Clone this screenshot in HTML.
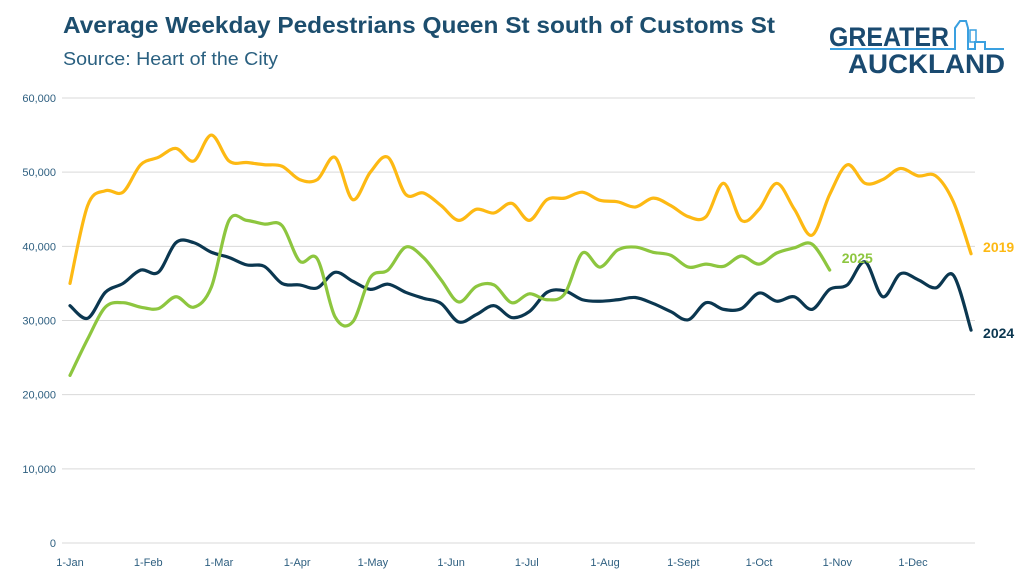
<!DOCTYPE html>
<html><head><meta charset="utf-8"><style>
body{margin:0;background:#fff;font-family:"Liberation Sans",sans-serif}
#wrap{position:relative;width:1024px;height:572px;overflow:hidden;background:#fff}
</style></head><body>
<div id="wrap">
<svg id="svg" width="1024" height="572">
<text x="63" y="33" font-size="23" font-weight="bold" fill="#1d4e6e" textLength="712" lengthAdjust="spacingAndGlyphs">Average Weekday Pedestrians Queen St south of Customs St</text>
<text x="63" y="65" font-size="18" fill="#2a6080" textLength="215" lengthAdjust="spacingAndGlyphs">Source: Heart of the City</text>
<g>
<text x="829" y="46" font-size="27" font-weight="bold" fill="#1a4a70" textLength="120" lengthAdjust="spacingAndGlyphs">GREATER</text>
<text x="848" y="73" font-size="27" font-weight="bold" fill="#1a4a70" textLength="157" lengthAdjust="spacingAndGlyphs">AUCKLAND</text>
<polyline points="830,49 955,49 955,28 960,21 966,21 968,28 968,49 975,49 975,42 985,42 985,49 1004,49" fill="none" stroke="#3aa0e0" stroke-width="2"/>
<rect x="970" y="30" width="6" height="12" fill="none" stroke="#3aa0e0" stroke-width="1.5"/>
</g>
<g id="grid"></g><g id="lines"></g>
</svg>
</div>
<script>
const months=["1-Jan","1-Feb","1-Mar","1-Apr","1-May","1-Jun","1-Jul","1-Aug","1-Sept","1-Oct","1-Nov","1-Dec"];
const monthDays=[0,31,59,90,120,151,181,212,243,273,304,334];
const yTicks=[0,10000,20000,30000,40000,50000,60000];
const s2019=[35,45.5,47.5,47.3,51,52,53.2,51.5,55,51.5,51.3,51,50.8,49,49,52,46.3,50,52,47,47.2,45.5,43.5,45,44.5,45.8,43.5,46.3,46.5,47.3,46.2,46,45.3,46.5,45.5,44,44,48.5,43.5,45,48.5,45,41.5,47,51,48.5,49,50.5,49.5,49.5,46,39];
const s2024=[32,30.3,33.8,35,36.8,36.5,40.5,40.5,39.2,38.5,37.5,37.3,35,34.8,34.4,36.5,35.3,34.2,34.9,33.8,33,32.3,29.8,30.8,32,30.4,31.2,33.8,34,32.8,32.6,32.8,33.1,32.3,31.2,30.1,32.4,31.5,31.6,33.7,32.6,33.2,31.5,34.2,34.8,37.9,33.2,36.3,35.5,34.4,36.1,28.7];
const s2025=[22.6,27.5,31.8,32.4,31.8,31.6,33.2,31.8,34.5,43.5,43.5,43,42.8,38,38.3,30.5,29.8,35.8,36.8,39.9,38.5,35.5,32.5,34.6,34.8,32.4,33.6,32.8,33.6,39.1,37.2,39.5,39.9,39.2,38.8,37.2,37.6,37.3,38.7,37.6,39.1,39.8,40.3,36.8];
const NS="http://www.w3.org/2000/svg";
const X0=70,PERDAY=(913-70)/334;
const xDay=d=>X0+d*PERDAY;
const xWeek=i=>X0+i*7*PERDAY;
const y=v=>543-v/60000*445;
const grid=document.getElementById('grid'),lines=document.getElementById('lines');
function mk(t,a,p){const e=document.createElementNS(NS,t);for(const k in a)e.setAttribute(k,a[k]);p.appendChild(e);return e;}
yTicks.forEach(v=>{
 const l=mk('line',{x1:62,x2:975,y1:y(v),y2:y(v),stroke:'#d9d9d9','stroke-width':1},grid);
 
 
 const t=mk('text',{x:56,y:y(v)+4,'text-anchor':'end','font-size':11,fill:'#2e5f80'},grid);
 t.textContent=v.toLocaleString('en-US');
 
 
});
months.forEach((m,i)=>{
 const t=mk('text',{x:xDay(monthDays[i]),y:566,'text-anchor':'middle','font-size':11,fill:'#2e5f80'},grid);
 t.textContent=m;
 
 
});
function path(vals){
 const p=vals.map((v,i)=>[xWeek(i),y(v*1000)]);
 let d='M'+p[0][0]+','+p[0][1];
 for(let i=0;i<p.length-1;i++){
  const a=p[i-1]||p[i],b=p[i],c=p[i+1],e=p[i+2]||c;
  d+=` C${b[0]+(c[0]-a[0])/6},${b[1]+(c[1]-a[1])/6} ${c[0]-(e[0]-b[0])/6},${c[1]-(e[1]-b[1])/6} ${c[0]},${c[1]}`;
 }
 return d;
}
[[s2019,'#fdb913','2019','line-2019'],[s2024,'#0b3750','2024','line-2024'],[s2025,'#8dc63f','2025','line-2025']].forEach(([s,c,lab,n])=>{
 const p=mk('path',{d:path(s),fill:'none',stroke:c,'stroke-width':3.2,'stroke-linejoin':'round','stroke-linecap':'round'},lines);
 
 
 const last=s.length-1;
 const t=mk('text',{x:xWeek(last)+12,y:y(s[last]*1000)+(lab==='2025'?-7:lab==='2024'?8:-2),'font-size':14,'font-weight':'bold',fill:c},lines);
 t.textContent=lab;
 
 
});
</script>
</body></html>
